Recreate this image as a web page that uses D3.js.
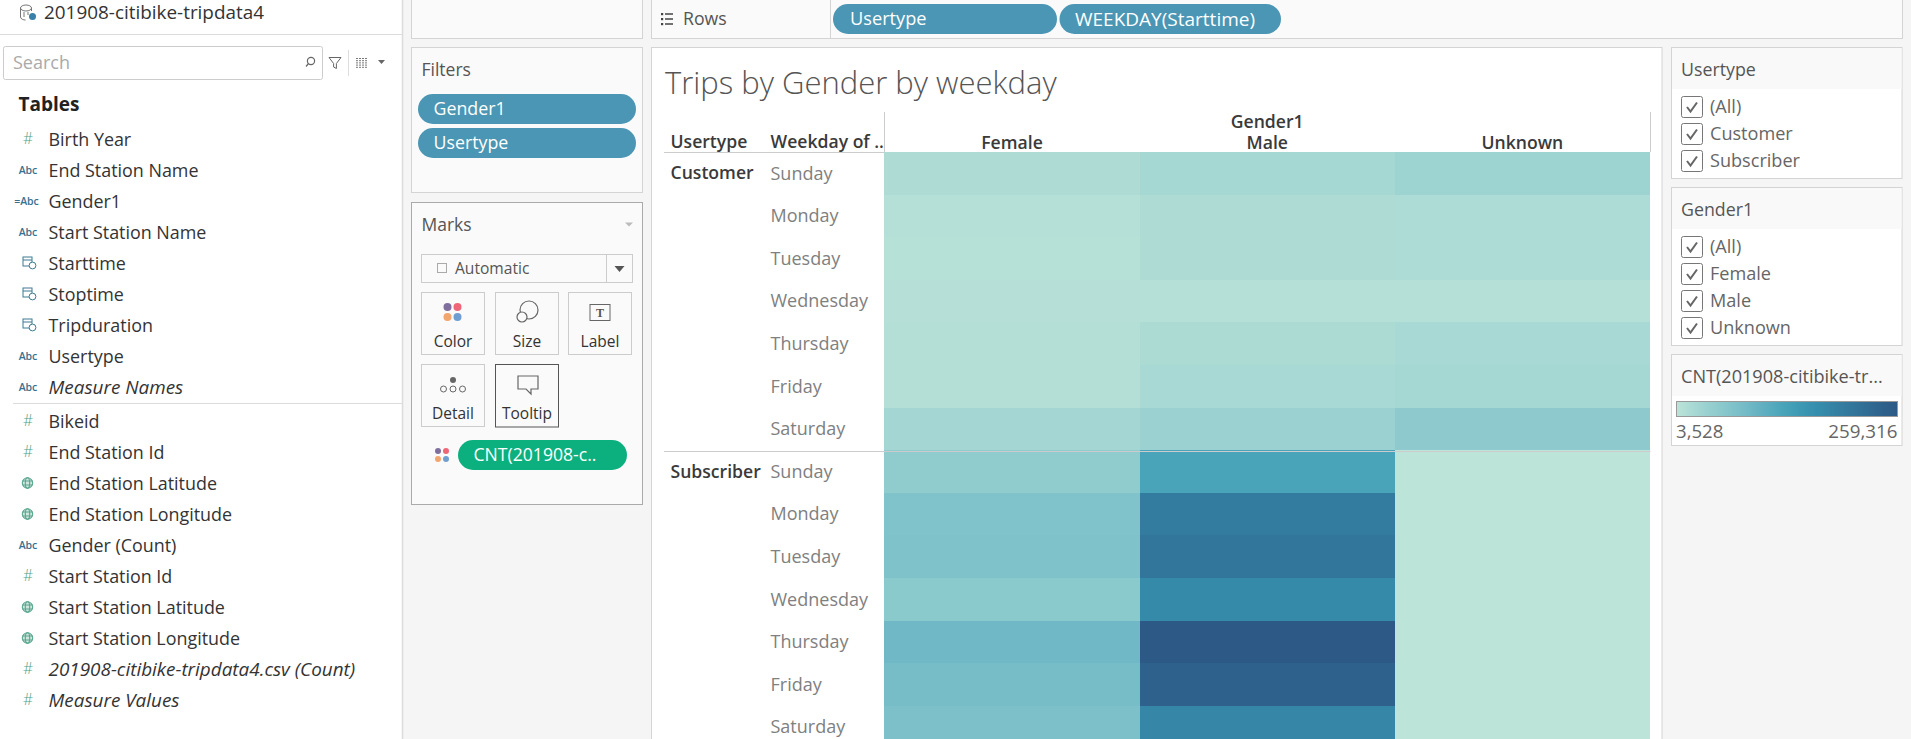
<!DOCTYPE html>
<html><head><meta charset="utf-8">
<script src="https://cdn.jsdelivr.net/npm/d3@7"></script>
<style>
html,body{margin:0;padding:0;background:#f5f5f5;overflow:hidden}
svg{display:block}
text{font-family:"Open Sans",sans-serif}
</style></head><body>
<svg id="c" width="1911" height="739"></svg>
<script>
// ---------- data ----------
const userTypes = ["Customer","Subscriber"];
const weekdays = ["Sunday","Monday","Tuesday","Wednesday","Thursday","Friday","Saturday"];
const genders = ["Female","Male","Unknown"];
const customerFemale = [17000,10000,9000,9500,11600,11700,27800];
const customerMale = [25000,17000,17000,10000,19500,22000,37000];
const customerUnknown = [34500,18000,18000,10200,22000,26000,52000];
const subscriberFemale = [49000,67000,68000,56000,87000,79000,72000];
const subscriberMale = [127000,196000,205500,174000,259316,241800,178000];
const subscriberUnknown = [3900,3800,3700,3528,3900,3800,3600];
const colorDomain = [3528,259316];
const legendLabels = ["3,528","259,316"];
const blueTeal = ["#bce4d8","#aedcd5","#a1d5d2","#95cecf","#89c8cc","#7ec1ca","#72bac6","#66b2c2","#59acbe","#4ba5ba","#419eb6","#3b96b2","#358ead","#3586a7","#347ea1","#32779b","#316f96","#2f6790","#2d608a","#2c5985"];
const dimFields = [["Birth Year","hash"],["End Station Name","abc"],["Gender1","calc"],["Start Station Name","abc"],["Starttime","date"],["Stoptime","date"],["Tripduration","date"],["Usertype","abc"],["Measure Names","abc",1]];
const measFields = [["Bikeid","hash"],["End Station Id","hash"],["End Station Latitude","globe"],["End Station Longitude","globe"],["Gender (Count)","abc"],["Start Station Id","hash"],["Start Station Latitude","globe"],["Start Station Longitude","globe"],["201908-citibike-tripdata4.csv (Count)","hash",1],["Measure Values","hash",1]];
const usertypeFilter = ["(All)","Customer","Subscriber"];
const genderFilter = ["(All)","Female","Male","Unknown"];

const svg = d3.select("#c");
const rect=(g,x,y,w,h,fill,stroke,rx)=>g.append("rect").attr("x",x).attr("y",y).attr("width",w).attr("height",h).attr("fill",fill||"none").attr("stroke",stroke||"none").attr("rx",rx||0);
const line=(g,x1,y1,x2,y2,c,sw)=>g.append("line").attr("x1",x1).attr("y1",y1).attr("x2",x2).attr("y2",y2).attr("stroke",c).attr("stroke-width",sw||1);
const txt=(g,x,y,s,size,fill,o={})=>g.append("text").attr("x",x).attr("y",y).attr("dy","0.35em").text(s).attr("font-size",size).attr("fill",fill).attr("font-weight",o.w||400).attr("font-style",o.i?"italic":null).attr("text-anchor",o.a||"start").attr("letter-spacing",o.ls||null);

// ---------- left data pane ----------
const left = svg.append("g");
rect(left,0,0,402.5,739,"#fff");
line(left,402.5,0,402.5,739,"#dcdcdc",1.5);
line(left,0,34.5,402,34.5,"#dcdcdc");
const ds=left.append("g").attr("fill","none").attr("stroke","#777");
ds.append("ellipse").attr("cx",26).attr("cy",8).attr("rx",5.5).attr("ry",3);
ds.append("path").attr("d","M20.5 8v9c0 2 3 3 5 3M31.5 8v3");
ds.append("path").attr("d","M24 12v5M28 12v3");
left.append("circle").attr("cx",32.5).attr("cy",16.5).attr("r",3.5).attr("fill","#3a80a8");
txt(left,44,12,"201908-citibike-tripdata4",18.9,"#333");
rect(left,3.5,46.5,319,33,"#fff","#ccc",2);
txt(left,13,63,"Search",18,"#aaa");
left.append("circle").attr("cx",311).attr("cy",61).attr("r",3.6).attr("fill","none").attr("stroke","#666").attr("stroke-width",1.2);
line(left,308.5,63.5,306,66.5,"#666",1.2);
left.append("path").attr("d","M329 57.5h12l-4.6 6v5l-2.8 -1.5v-3.5z").attr("fill","none").attr("stroke","#666");
line(left,348.5,50,348.5,76,"#ddd");
for(let i=0;i<5;i++) line(left,356,58.5+i*2.2,368,58.5+i*2.2,"#777",1).attr("stroke-dasharray","2 1");
left.append("path").attr("d","M378 60h7l-3.5 4z").attr("fill","#666");
txt(left,18.5,104,"Tables",19,"#222",{w:700});
function fieldIcon(g,type,y){
  if(type==="hash") txt(g,28,y,"#",15.5,"#4f9e85",{a:"middle",w:300});
  else if(type==="abc") txt(g,28,y,"Abc",10.5,"#3a708f",{a:"middle",w:600});
  else if(type==="calc") txt(g,26.5,y,"=Abc",10.5,"#3a708f",{a:"middle",w:600});
  else if(type==="globe"){
    const k=g.append("g").attr("fill","none").attr("stroke","#5aa68f").attr("stroke-width",1.1);
    k.append("circle").attr("cx",27.5).attr("cy",y).attr("r",5.2).attr("fill","#cfe6dd");
    k.append("ellipse").attr("cx",27.5).attr("cy",y).attr("rx",2.2).attr("ry",5.2);
    k.append("path").attr("d",`M22.5 ${y-2}h10M22.5 ${y+2}h10`);
  } else {
    const k=g.append("g").attr("fill","none").attr("stroke","#3f7b92").attr("stroke-width",1);
    k.append("rect").attr("x",23).attr("y",y-6).attr("width",9).attr("height",9);
    k.append("path").attr("d",`M23 ${y-3}h9`);
    k.append("circle").attr("cx",32.5).attr("cy",y+2.5).attr("r",3.4).attr("fill","#fff");
  }
}
const fieldRow=(f,y)=>{fieldIcon(left,f[1],y);txt(left,48.5,y+.4,f[0],f[2]?18.9:17.9,"#333",{i:f[2]});};
dimFields.forEach((f,i)=>fieldRow(f,139+i*31));
line(left,13,403.5,402,403.5,"#dcdcdc");
measFields.forEach((f,i)=>fieldRow(f,421+i*31));

// ---------- middle cards ----------
const mid = svg.append("g");
const cardStroke="#d4d4d4", cardFill="#fafafa", pillBlue="#4a96b4";
rect(mid,411.5,-2,231,40.5,cardFill,cardStroke);
rect(mid,411.5,47.5,231,145,cardFill,cardStroke);
txt(mid,421.5,70,"Filters",17.5,"#555");
[["Gender1",109],["Usertype",143]].forEach(p=>{
  rect(mid,418,p[1]-15,218,30,pillBlue,null,15);
  txt(mid,433.5,p[1],p[0],17.8,"#fff");
});
rect(mid,411.5,202.5,231,302,cardFill,"#aaa");
txt(mid,421.5,225,"Marks",17.5,"#555");
mid.append("path").attr("d","M625 222.5h8l-4 4z").attr("fill","#bbb");
rect(mid,421.5,254.5,211,28,"#fafafa","#ccc");
line(mid,606.5,255,606.5,282,"#ccc");
rect(mid,437.5,263.5,9,9,"none","#aaa");
txt(mid,455,268.5,"Automatic",15.6,"#555");
mid.append("path").attr("d","M614.5 266h10l-5 6z").attr("fill","#555");
[["Color",421.5,292.5,0],["Size",495.5,292.5,0],["Label",568.5,292.5,0],["Detail",421.5,364.5,0],["Tooltip",495.5,364.5,1]].forEach(b=>{
  rect(mid,b[1],b[2],63,b[3]?62.5:62,"#fafafa",b[3]?"#555":"#ccc");
  txt(mid,b[1]+31.5,b[2]+49.5,b[0],15.5,"#333",{a:"middle"});
});
const dots=(g,cx,cy,d,r)=>[["#7f6f9f",-d,-d],["#ee6677",d,-d],["#f2a56f",-d,d],["#6f9fd0",d,d]].forEach(c=>g.append("circle").attr("cx",cx+c[1]).attr("cy",cy+c[2]).attr("r",r).attr("fill",c[0]));
dots(mid,452.5,312,5,4);
mid.append("circle").attr("cx",529).attr("cy",310).attr("r",9).attr("fill","none").attr("stroke","#666").attr("stroke-width",1.2);
mid.append("circle").attr("cx",522).attr("cy",317).attr("r",5).attr("fill","#fafafa").attr("stroke","#666").attr("stroke-width",1.2);
rect(mid,590,304.5,20,16,"none","#666");
txt(mid,600,312.5,"T",12,"#555",{a:"middle",w:700}).style("font-family","'Liberation Serif'");
mid.append("circle").attr("cx",453).attr("cy",380).attr("r",3).attr("fill","#666");
[443.5,453,462.5].forEach(x=>mid.append("circle").attr("cx",x).attr("cy",389).attr("r",3).attr("fill","none").attr("stroke","#666"));
mid.append("path").attr("d","M518 376h20v13h-7v5l-5-5h-8z").attr("fill","none").attr("stroke","#666").attr("stroke-width",1.2);
dots(mid,442,455,4,3);
rect(mid,458,440,169,30,"#0cb07e",null,15);
txt(mid,473.5,455,"CNT(201908-c..",17.6,"#fff");

// ---------- rows shelf ----------
const shelf = svg.append("g");
rect(shelf,651.5,-2,1251,40.5,cardFill,cardStroke);
line(shelf,830.5,0,830.5,38,cardStroke);
[14,19,24].forEach(y=>{rect(shelf,661,y-1,2.2,2.2,"#444");line(shelf,665,y,673,y,"#444",1.5);});
txt(shelf,683,19,"Rows",17.7,"#555");
[["Usertype",833,224,18.2,850],["WEEKDAY(Starttime)",1059.5,221.5,19,1075]].forEach(p=>{
  rect(shelf,p[1],4,p[2],30,pillBlue,null,15);
  txt(shelf,p[4],19,p[0],p[3],"#fff");
});

// ---------- main sheet ----------
const sheet = svg.append("g");
rect(sheet,651.5,47.5,1010.5,700,"#fff","#d4d4d4");
txt(sheet,665,83,"Trips by Gender by weekday",31,"#555",{w:300});

const rowKeys = userTypes.flatMap(u=>weekdays.map(d=>u+"|"+d));
const x = d3.scaleBand().domain(genders).range([884.4,1650]);
const y = d3.scaleBand().domain(rowKeys).range([152,152+14*42.6]);
const color = d3.scaleSequential(d3.piecewise(d3.interpolateRgb,blueTeal)).domain(colorDomain);
const seriesTable = {Customer:{Female:customerFemale,Male:customerMale,Unknown:customerUnknown},Subscriber:{Female:subscriberFemale,Male:subscriberMale,Unknown:subscriberUnknown}};
const cells = userTypes.flatMap(u=>genders.flatMap(g=>weekdays.map((d,i)=>({u,g,d,v:seriesTable[u][g][i]}))));
sheet.append("g").attr("shape-rendering","crispEdges").selectAll("rect").data(cells).join("rect")
  .attr("x",d=>x(d.g)).attr("y",d=>y(d.u+"|"+d.d)).attr("width",x.bandwidth()).attr("height",y.bandwidth())
  .attr("fill",d=>color(d.v));

// headers
const hdrSize=17.6, hdrWeight=600, hdrFill="#3a3a3a";
txt(sheet,670.5,142,"Usertype",hdrSize,hdrFill,{w:hdrWeight});
txt(sheet,770.5,142,"Weekday of ..",hdrSize,hdrFill,{w:hdrWeight});
line(sheet,664,152.5,884,152.5,"#ccc");
line(sheet,884.5,112,884.5,152,"#ccc");
line(sheet,1650.5,112,1650.5,152,"#ccc");
line(sheet,664,451.5,1650.5,451.5,"#ccc");
txt(sheet,x("Male")+x.bandwidth()/2,122,"Gender1",hdrSize,hdrFill,{w:hdrWeight,a:"middle"});
const xAxis = sheet.append("g").attr("transform","translate(0,152)").call(d3.axisTop(x).tickSize(0).tickPadding(2));
xAxis.select(".domain").remove();
xAxis.selectAll("text").style("font-family",'"Open Sans",sans-serif').attr("font-size",hdrSize).attr("font-weight",hdrWeight).attr("fill",hdrFill).attr("y",-9).attr("dy","0.35em");
const yAxis = sheet.append("g").attr("transform","translate(770.5,0.6)").call(d3.axisLeft(y).tickSize(0).tickFormat(k=>k.split("|")[1]));
yAxis.select(".domain").remove();
yAxis.selectAll("text").style("font-family",'"Open Sans",sans-serif').attr("font-size",18).attr("fill","#808080").attr("text-anchor","start").attr("x",0);
userTypes.forEach(u=>txt(sheet,670.5,y(u+"|Sunday")+y.bandwidth()/2,u,hdrSize,hdrFill,{w:hdrWeight}));

// ---------- right cards ----------
const right = svg.append("g");
function filterCard(top,h,title,items){
  rect(right,1671.5,top,230.5,h,"#fff",cardStroke);
  rect(right,1672,top+.5,229.5,41,"#f9f9f9");
  txt(right,1681,top+22,title,17.8,"#555");
  items.forEach((it,i)=>{
    const cy=top+59.5+i*27;
    rect(right,1681.5,cy-10.5,21,21,"#fff","#777",2);
    right.append("path").attr("d",`M${1687} ${cy} l3.5 4.5 l6.5 -9`).attr("fill","none").attr("stroke","#666").attr("stroke-width",2);
    txt(right,1710,cy,it,18.1,"#666");
  });
}
filterCard(47.5,131,"Usertype",usertypeFilter);
filterCard(187.5,158,"Gender1",genderFilter);
rect(right,1671.5,354.5,230.5,91,"#fff",cardStroke);
rect(right,1672,355,229.5,41,"#f9f9f9");
txt(right,1681,377,"CNT(201908-citibike-tr...",18.1,"#555");
const defs=svg.append("defs");
const grad=defs.append("linearGradient").attr("id","lg");
blueTeal.forEach((c,i)=>grad.append("stop").attr("offset",(i/(blueTeal.length-1)*100)+"%").attr("stop-color",c));
const legendX=d3.scaleLinear().domain(colorDomain).range([1676.5,1897.5]);
rect(right,legendX(colorDomain[0]),401.5,legendX(colorDomain[1])-legendX(colorDomain[0]),15,"url(#lg)","#999");
txt(right,1676,431,legendLabels[0],18.6,"#666");
txt(right,1897.5,431,legendLabels[1],18.8,"#666",{a:"end"});
</script>
</body></html>
